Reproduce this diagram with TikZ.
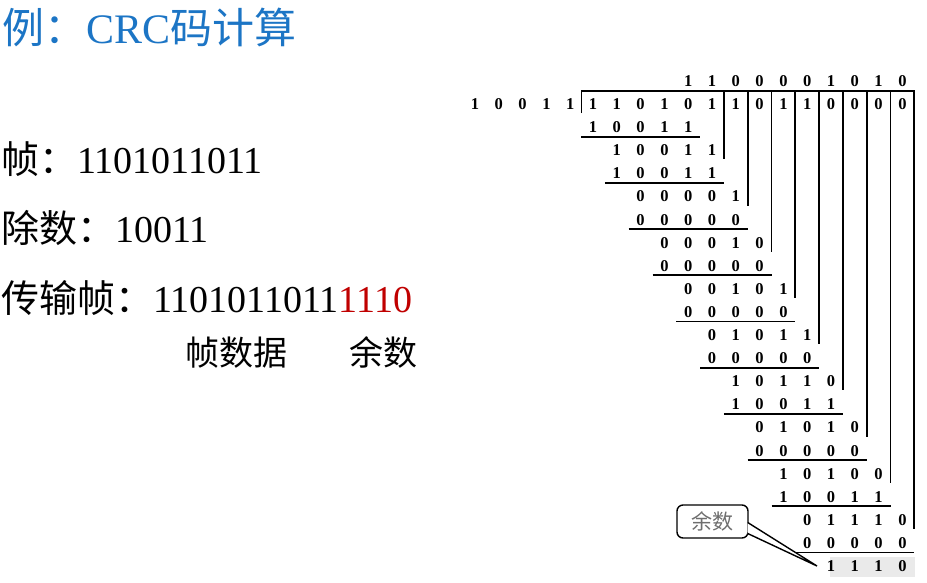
\documentclass[tikz,border=0pt]{standalone}
\usepackage{fontspec}
\setmainfont{Liberation Serif}
\newfontfamily\cjk{Noto Sans CJK SC}
\definecolor{titleblue}{RGB}{28,117,197}
\definecolor{remred}{RGB}{192,0,0}
\definecolor{remshade}{RGB}{234,234,234}
\definecolor{calltext}{RGB}{110,110,110}
\begin{document}
\begin{tikzpicture}[x=1pt,y=-1pt,
  dig/.style={font=\bfseries\fontsize{16.5}{16.5}\selectfont, inner sep=0pt, anchor=center},
  rulel/.style={line width=1.9pt},
  bigtext/.style={anchor=base west, inner sep=0pt, font=\fontsize{38}{38}\selectfont},
  subtext/.style={anchor=base west, inner sep=0pt, font=\cjk\fontsize{34}{34}\selectfont},
  callbox/.style={draw, rounded corners=6pt, line width=1.4pt, minimum width=71pt, minimum height=33pt,
     text=calltext, font=\cjk\fontsize{21}{21}\selectfont, inner sep=0pt}]
\useasboundingbox (0,0) rectangle (927,582);

% title
\node[anchor=base west, inner sep=0pt, text=titleblue, font=\fontsize{42}{42}\selectfont] (title) at (2,43)
  {{\cjk 例：}CRC{\cjk 码计算}};

% left texts
\node[bigtext] (frame) at (1,173) {{\cjk 帧：}1101011011};
\node[bigtext] (divisor) at (1,242) {{\cjk 除数：}10011};
\node[bigtext] (trans) at (1,312) {{\cjk 传输帧：}1101011011\textcolor{remred}{1110}};
\node[subtext] (fdata) at (185,365) {帧数据};
\node[subtext] (frem) at (349,365) {余数};

% shading of the remainder
\fill[remshade] (830,557) rectangle (915,577);

% divisor
\foreach \d [count=\i from 0] in {1,0,0,1,1}
  \node[dig] (dv-\i) at ({475+23.8*\i},{81+23.1}) {\d};

% grid rows: row / start column / digits
\foreach \r/\s/\ds in {
  0/4/{1,1,0,0,0,0,1,0,1,0},
  1/0/{1,1,0,1,0,1,1,0,1,1,0,0,0,0},
  2/0/{1,0,0,1,1},
  3/1/{1,0,0,1,1},
  4/1/{1,0,0,1,1},
  5/2/{0,0,0,0,1},
  6/2/{0,0,0,0,0},
  7/3/{0,0,0,1,0},
  8/3/{0,0,0,0,0},
  9/4/{0,0,1,0,1},
  10/4/{0,0,0,0,0},
  11/5/{0,1,0,1,1},
  12/5/{0,0,0,0,0},
  13/6/{1,0,1,1,0},
  14/6/{1,0,0,1,1},
  15/7/{0,1,0,1,0},
  16/7/{0,0,0,0,0},
  17/8/{1,0,1,0,0},
  18/8/{1,0,0,1,1},
  19/9/{0,1,1,1,0},
  20/9/{0,0,0,0,0},
  21/10/{1,1,1,0}} {
  \foreach \d [count=\i from 0] in \ds
    \node[dig] (g-\r-\i) at ({593+23.8*(\s+\i)},{81+23.1*\r}) {\d};
}

% bracket
\draw[rulel] (581.5,113) -- (581.5,91) -- (915.2,91);
% vertical separators
\foreach \k in {5,...,13}
  \draw[rulel] ({593+23.8*\k+11.9},91) -- ({593+23.8*\k+11.9},{81+23.1*(2*\k-7)+9});
% underlines
\foreach \m in {1,...,10}
  \draw[rulel] ({593+23.8*(\m-1)-11.9},{81+23.1*(2*\m)+9.5}) -- ({593+23.8*(\m+3)+11.9},{81+23.1*(2*\m)+9.5});

% callout
\node[callbox] (cb) at (712.5,521.5) {余数};
\coordinate (tip) at (817,566);
\draw[line width=1.4pt, fill=white, line join=miter]
  ([xshift=-1pt,yshift=-1pt]cb.east) -- (tip) -- ([xshift=-1pt,yshift=-12pt]cb.east);
\end{tikzpicture}
\end{document}
